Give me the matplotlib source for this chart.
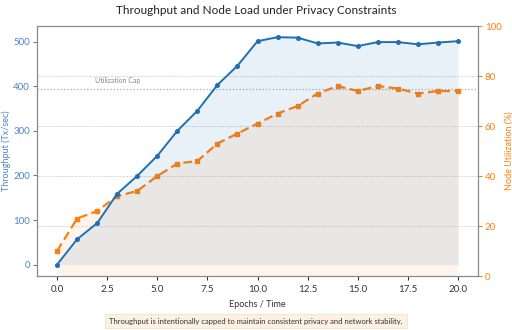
import matplotlib
matplotlib.use("Agg")
import matplotlib.pyplot as plt
import numpy as np

plt.rcParams['font.family'] = ['Lato', 'DejaVu Sans']

BLUE = "#1f6fb2"
BLUE_TXT = "#4a86c5"
ORANGE = "#ff7f0e"
SPINE = "#888888"

epochs = list(range(21))
throughput = [0, 57, 93, 159, 199, 244, 300, 345, 403, 446, 501,
              510, 509, 496, 498, 490, 499, 499, 494, 498, 501]
utilization = [10, 23, 26, 32, 34, 40, 45, 46, 53, 57, 61,
               65, 68, 73, 76, 74, 76, 75, 73, 74, 74]
util_cap = 75
x_ticks = [0, 2.5, 5, 7.5, 10, 12.5, 15, 17.5, 20]

fig = plt.figure(figsize=(5.12, 3.3), dpi=100)
ax = fig.add_axes([0.0723, 0.1636, 0.8613, 0.7575])
ax2 = ax.twinx()

# right axis (utilization) drawn underneath
ax2.fill_between(epochs, 0, utilization, color=ORANGE, alpha=0.08, lw=0)
ax2.plot(epochs, utilization, color=ORANGE, lw=1.6, ls=(0, (4, 2)),
         marker='s', ms=3.2, zorder=3)
ax2.axhline(util_cap, color="#aaaaaa", lw=0.9, ls=":")
ax2.text(3.0, util_cap + 1.8, "Utilization Cap", fontsize=5, color="#888888",
         ha="center", va="bottom")
ax2.set_ylim(0, 100)
ax2.set_yticks([0, 20, 40, 60, 80, 100])
ax2.grid(axis='y', color="#cccccc", ls="--", lw=0.5)
ax2.set_ylabel("Node Utilization (%)", color=ORANGE, fontsize=6.5, labelpad=2)
ax2.tick_params(axis='y', colors=ORANGE, labelsize=7, length=3, pad=2)

# left axis (throughput) on top
ax.set_zorder(ax2.get_zorder() + 1)
ax.patch.set_visible(False)
ax.fill_between(epochs, 0, throughput, color="#1f77b4", alpha=0.1, lw=0)
ax.plot(epochs, throughput, color=BLUE, lw=1.4, marker='o', ms=2.6)
ax.set_xlim(-1, 21)
ax.set_xticks(x_ticks)
ax.set_xticklabels([f"{t:.1f}" for t in x_ticks])
ax.set_ylim(-25.5, 535)
ax.set_yticks([0, 100, 200, 300, 400, 500])
ax.set_xlabel("Epochs / Time", fontsize=6.5, color="#333333")
ax.set_ylabel("Throughput (Tx/sec)", color=BLUE_TXT, fontsize=6.5, labelpad=2)
ax.tick_params(axis='y', colors=BLUE_TXT, labelsize=7, length=3, pad=2)
ax.tick_params(axis='x', colors="#333333", labelsize=7, length=3)
for a in (ax, ax2):
    for s in a.spines.values():
        s.set_color(SPINE)
        s.set_linewidth(0.8)

fig.suptitle("Throughput and Node Load under Privacy Constraints",
             fontsize=8.5, color="#222222", y=0.985)
fig.text(0.5, 0.027,
         "Throughput is intentionally capped to maintain consistent privacy and network stability.",
         ha="center", va="center", fontsize=5.5, color="#333333",
         bbox=dict(boxstyle="square,pad=0.5", fc="#fdf1e3", ec="#f3e2cc", lw=0.6))

fig.savefig("out.png", dpi=100)
